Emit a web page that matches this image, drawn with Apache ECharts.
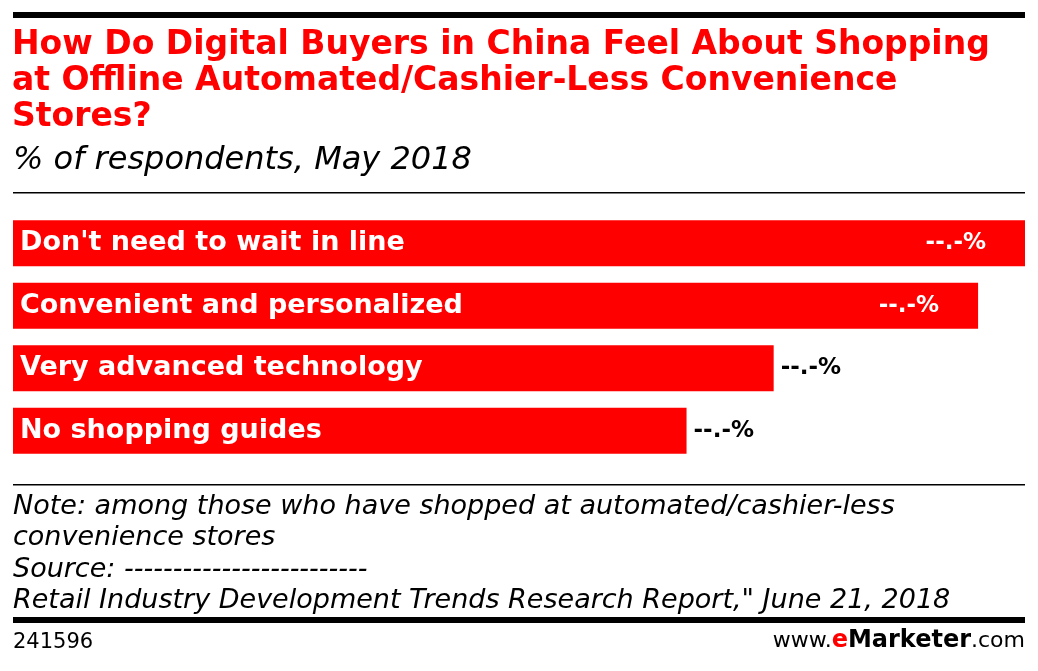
<!DOCTYPE html>
<html>
<head>
<meta charset="utf-8">
<script src="https://cdn.jsdelivr.net/npm/echarts@6/dist/echarts.min.js"></script>
<style>
  html, body { margin: 0; padding: 0; background: #fff; }
  #chart { width: 1038px; height: 671px; }
</style>
</head>
<body>
<div id="chart"></div>
<script>
// categories top to bottom (shown as --.-%)
var categories = ['Don\'t need to wait in line', 'Convenient and personalized', 'Very advanced technology', 'No shopping guides'];
var values = [60.4, 57.6, 45.4, 40.2];
var valueLabels = ['--.-%', '--.-%', '--.-%', '--.-%'];
var insideLabel = [true, true, false, false];

var myChart = echarts.init(document.getElementById('chart'));

var font = '"DejaVu Sans", sans-serif';

var seriesData = values.map(function (v, i) {
  return {
    value: v,
    label: insideLabel[i]
      ? { position: 'insideRight', distance: 39, color: '#fff' }
      : { position: 'right', distance: 7, color: '#000' }
  };
});

myChart.setOption({
  animation: false,
  grid: { left: 13, right: 13, top: 212, bottom: 209, containLabel: false },
  xAxis: {
    type: 'value', min: 0, max: values[0],
    show: false
  },
  yAxis: {
    type: 'category', data: categories, inverse: true, z: 10,
    axisLine: { show: false }, axisTick: { show: false },
    axisLabel: {
      inside: true, margin: 7, color: '#fff',
      fontFamily: font, fontWeight: 'bold', fontSize: 27
    }
  },
  series: [{
    type: 'bar', data: seriesData, barWidth: 46,
    itemStyle: { color: '#ff0000' },
    label: {
      show: true, fontFamily: font, fontWeight: 'bold', fontSize: 23,
      formatter: function (p) { return valueLabels[p.dataIndex]; }
    }
  }],
  graphic: [
    { type: 'rect', shape: { x: 13, y: 12, width: 1012, height: 6 }, style: { fill: '#000' } },
    { type: 'text', left: 12, top: 27, style: {
      text: 'How Do Digital Buyers in China Feel About Shopping\nat Offline Automated/Cashier-Less Convenience\nStores?',
      fill: '#ff0000', font: 'bold 33px ' + font, lineHeight: 36 } },
    { type: 'text', left: 13, top: 145, style: {
      text: '% of respondents, May 2018', fill: '#000', font: 'oblique 32px ' + font } },
    { type: 'rect', shape: { x: 13, y: 192, width: 1012, height: 1.5 }, style: { fill: '#000' } },
    { type: 'rect', shape: { x: 13, y: 484, width: 1012, height: 1.5 }, style: { fill: '#000' } },
    { type: 'text', left: 13, top: 491, style: {
      text: 'Note: among those who have shopped at automated/cashier-less\nconvenience stores\nSource: -------------------------\nRetail Industry Development Trends Research Report," June 21, 2018',
      fill: '#000', font: 'oblique 27px ' + font, lineHeight: 31.5 } },
    { type: 'rect', shape: { x: 13, y: 617, width: 1012, height: 6 }, style: { fill: '#000' } },
    { type: 'text', left: 13, top: 632, style: { text: '241596', fill: '#000', font: '21px ' + font } },
    { type: 'text', right: 13, top: 629, style: {
      rich: {
        a: { fontFamily: font, fontSize: 22, fill: '#000' },
        e: { fontFamily: font, fontSize: 24, fontWeight: 'bold', fill: '#ff0000' },
        b: { fontFamily: font, fontSize: 24, fontWeight: 'bold', fill: '#000' }
      },
      text: '{a|www.}{e|e}{b|Marketer}{a|.com}' } }
  ]
});
window.onresize = function () { myChart.resize(); };
</script>
</body>
</html>
